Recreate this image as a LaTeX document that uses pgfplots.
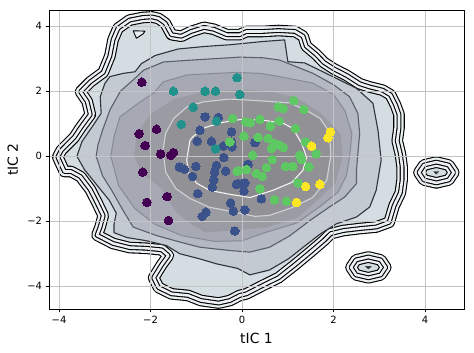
\documentclass[border=0pt]{standalone}
\usepackage{fontspec}
\setmainfont{DejaVu Sans}
\usepackage{pgfplots}
\usepackage{pgfplotstable}
\pgfplotsset{compat=1.18}

\definecolor{cgap}{HTML}{EBF0F2}
\definecolor{czero}{HTML}{D4DDE2}
\definecolor{cDf}{HTML}{C3CAD2}
\definecolor{cGf}{HTML}{B3B8C2}
\definecolor{cMf}{HTML}{A6A9B3}
\definecolor{cFf}{HTML}{9B9BA3}
\definecolor{cWaf}{HTML}{929296}
\definecolor{cWbf}{HTML}{8A898D}
\definecolor{cDl}{HTML}{30343A}
\definecolor{cGl}{HTML}{5B616B}
\definecolor{cMl}{HTML}{858A94}
\definecolor{cWal}{HTML}{CFD3D6}
\definecolor{cWbl}{HTML}{F4F4F4}
\definecolor{gridc}{HTML}{C4C4C4}
\definecolor{vP}{HTML}{440154}
\definecolor{vB}{HTML}{3B528B}
\definecolor{vT}{HTML}{21918C}
\definecolor{vG}{HTML}{5EC962}
\definecolor{vY}{HTML}{FDE725}

\pgfplotstableread{
x y
-2.78 4.04
-2.52 4.30
-2.23 4.38
-2.02 4.40
-1.87 4.35
-1.72 4.20
-1.58 3.84
-1.36 3.79
-1.14 3.94
-0.85 4.07
-0.63 4.01
-0.34 3.84
-0.05 3.84
0.10 3.94
0.46 3.94
0.82 3.97
1.19 3.94
1.37 3.79
1.44 3.48
1.66 3.22
1.84 2.96
2.06 2.76
2.35 2.55
2.64 2.29
2.86 2.19
3.15 2.09
3.33 1.94
3.44 1.63
3.52 1.32
3.52 0.90
3.48 0.49
3.55 0.08
3.59 -0.33
3.59 -0.74
3.55 -1.15
3.41 -1.56
3.30 -2.08
3.01 -2.23
2.64 -2.28
2.28 -2.34
1.99 -2.44
1.84 -2.65
1.55 -3.00
1.19 -3.42
0.82 -3.83
0.46 -4.08
0.10 -4.34
-0.05 -4.39
-0.27 -4.55
-0.52 -4.63
-0.92 -4.55
-1.21 -4.39
-1.58 -4.34
-1.87 -4.14
-1.98 -3.83
-1.80 -3.42
-1.65 -3.13
-1.80 -2.95
-2.16 -2.90
-2.52 -2.88
-2.89 -2.75
-3.11 -2.59
-3.25 -2.49
-3.18 -2.23
-3.11 -1.87
-3.25 -1.46
-3.40 -1.05
-3.62 -0.64
-3.83 -0.48
-3.98 -0.48
-4.13 -0.02
-4.05 0.19
-3.76 0.60
-3.62 0.90
-3.40 1.32
-3.47 1.73
-3.62 2.04
-3.40 2.35
-3.11 2.65
-2.96 3.17
-2.89 3.68
}\Pzero

\pgfplotstableread{
x y
4.625 -0.50
4.515 -0.27
4.245 -0.18
3.975 -0.27
3.865 -0.50
3.975 -0.73
4.245 -0.82
4.515 -0.73
}\IslandA

\pgfplotstableread{
x y
3.14 -3.42
3.03 -3.19
2.76 -3.10
2.49 -3.19
2.38 -3.42
2.49 -3.65
2.76 -3.74
3.03 -3.65
}\IslandB

\pgfplotstableread{
x y
-0.27 3.43
0.45 3.53
0.93 3.58
1.00 2.91
1.37 2.87
1.91 2.50
2.50 2.09
2.86 1.63
2.97 0.80
3.04 -0.12
2.93 -1.05
2.79 -1.56
2.50 -1.87
2.06 -2.08
1.70 -2.40
1.38 -2.75
1.02 -3.15
0.60 -3.50
0.17 -3.65
-0.10 -3.45
-0.56 -3.31
-0.92 -3.16
-1.36 -3.00
-1.65 -2.75
-2.09 -2.60
-2.52 -2.50
-2.80 -2.35
-2.80 -2.10
-2.75 -1.75
-2.90 -1.36
-3.20 -0.84
-3.45 -0.40
-3.61 0.00
-3.50 0.45
-3.28 0.90
-3.08 1.32
-3.10 1.83
-3.00 2.24
-2.89 2.45
-2.60 2.55
-2.34 2.60
-2.20 2.85
-1.90 3.10
-1.40 3.30
-0.80 3.38
}\LevD

\pgfplotstableread{
x y
-0.05 3.05
0.45 3.03
0.82 2.96
1.55 2.55
2.00 2.20
2.35 1.83
2.53 1.32
2.57 0.70
2.53 0.08
2.50 -0.43
2.50 -0.84
2.24 -1.26
1.91 -1.56
1.48 -1.98
1.04 -2.45
0.60 -2.80
0.17 -2.95
-0.27 -2.90
-0.92 -2.80
-1.36 -2.64
-1.87 -2.44
-2.38 -2.18
-2.60 -1.67
-2.85 -1.05
-3.05 -0.60
-3.19 0.00
-3.15 0.35
-3.05 0.80
-2.89 1.42
-2.66 2.00
-2.38 2.35
-2.15 2.65
-1.72 2.90
-1.20 2.95
-0.63 3.00
}\LevG

\pgfplotstableread{
x y
-0.12 2.58
0.40 2.55
0.82 2.45
1.55 2.25
2.00 1.90
2.25 1.40
2.40 0.70
2.35 0.00
2.28 -0.60
2.10 -1.10
1.70 -1.55
1.20 -2.05
0.50 -2.35
0.00 -2.60
-0.60 -2.62
-1.30 -2.45
-1.90 -2.10
-2.35 -1.60
-2.70 -0.90
-2.87 0.00
-2.80 0.60
-2.67 1.21
-2.30 1.60
-1.94 1.94
-1.72 2.29
-1.21 2.50
-0.60 2.55
}\LevM

\pgfplotstableread{
x y
0.00 2.05
0.60 2.00
1.20 1.80
1.70 1.35
2.15 0.70
2.20 0.00
2.05 -0.80
1.65 -1.35
1.20 -1.90
0.50 -2.20
-0.20 -2.28
-0.80 -2.35
-1.10 -2.10
-1.45 -1.70
-1.75 -1.00
-2.20 -0.50
-2.36 0.00
-2.30 0.70
-2.00 1.30
-1.50 1.75
-0.80 2.00
}\LevF

\pgfplotstableread{
x y
-1.73 0.19
-1.67 -0.49
-1.45 -0.99
-1.14 -1.30
-0.71 -1.57
-0.12 -1.73
0.28 -1.85
0.60 -1.82
1.11 -1.57
1.54 -1.27
1.85 -0.74
1.94 0.03
1.91 0.74
1.70 1.17
1.39 1.42
1.04 1.64
0.45 1.70
-0.27 1.76
-0.86 1.67
-1.21 1.51
-1.49 1.17
-1.67 0.71
}\LevWa

\pgfplotstableread{
x y
-1.14 0.49
-1.21 -0.12
-1.16 -0.52
-0.99 -0.83
-0.71 -1.05
-0.27 -1.17
0.17 -1.27
0.67 -1.05
1.09 -0.80
1.33 -0.43
1.41 -0.03
1.30 0.40
1.11 0.86
0.89 1.02
0.45 1.11
0.02 1.14
-0.27 1.08
-0.49 1.02
-0.86 0.86
-1.08 0.59
}\LevWb

\newcommand{\bandlines}[2]{%
\addplot[on layer=axis background, draw=black, line width=11.6bp, line join=round]
  table[x expr={-0.1+#2*(\thisrow{x}+0.1)}, y expr={-0.1+#2*(\thisrow{y}+0.1)}]{#1} -- cycle;
\addplot[on layer=axis background, draw=cgap, line width=9.4bp, line join=round]
  table[x expr={-0.1+#2*(\thisrow{x}+0.1)}, y expr={-0.1+#2*(\thisrow{y}+0.1)}]{#1} -- cycle;
\addplot[on layer=axis background, draw=black, line width=4.8bp, line join=round]
  table[x expr={-0.1+#2*(\thisrow{x}+0.1)}, y expr={-0.1+#2*(\thisrow{y}+0.1)}]{#1} -- cycle;
\addplot[on layer=axis background, draw=cgap, line width=2.6bp, line join=round]
  table[x expr={-0.1+#2*(\thisrow{x}+0.1)}, y expr={-0.1+#2*(\thisrow{y}+0.1)}]{#1} -- cycle;
}

\begin{document}
\begin{tikzpicture}
\begin{axis}[
  set layers, clip mode=individual,
  width=415bp, height=299bp, scale only axis,
  xmin=-4.22, xmax=4.85, ymin=-4.70, ymax=4.50,
  xtick={-4,-2,0,2,4}, xticklabels={−4,−2,0,2,4},
  ytick={-4,-2,0,2,4}, yticklabels={−4,−2,0,2,4},
  tick align=outside, tick pos=left,
  major tick length=3.5bp,
  every tick/.style={black, line width=0.8bp},
  axis line style={line width=0.8bp},
  grid=major,
  major grid style={draw=gridc, line width=0.8bp},
  ticklabel style={font=\fontsize{10}{12}\selectfont},
  label style={font=\fontsize{14}{16}\selectfont},
  xlabel={tIC 1}, ylabel={tIC 2},
  xlabel style={at={(axis description cs:0.5,-0.097)}, anchor=center},
  ylabel style={at={(axis description cs:-0.087,0.5)}, anchor=center},
]
% outer region
\addplot[on layer=axis background, fill=czero, draw=none]
  table[x expr={-0.1+0.975*(\thisrow{x}+0.1)}, y expr={-0.1+0.975*(\thisrow{y}+0.1)}]{\Pzero} -- cycle;
\bandlines{\Pzero}{0.975}
\addplot[on layer=axis background, fill=cgap, draw=black, line width=0.9bp, line join=round]
  coordinates {(-2.38,3.86) (-2.12,3.85) (-2.16,3.77) (-2.31,3.63)} -- cycle;
% islands
\addplot[on layer=axis background, fill=czero, draw=none] table{\IslandA} -- cycle;
\bandlines{\IslandA}{1}
\addplot[on layer=axis background, fill=cDl, draw=cDl] coordinates {(4.19,-0.47) (4.30,-0.47) (4.245,-0.55)} -- cycle;
\addplot[on layer=axis background, fill=czero, draw=none] table{\IslandB} -- cycle;
\bandlines{\IslandB}{1}
\addplot[on layer=axis background, fill=cDl, draw=cDl] coordinates {(2.70,-3.39) (2.82,-3.39) (2.76,-3.47)} -- cycle;
% inner levels
\addplot[on layer=axis background, fill=cDf, draw=cDl, line width=1.1bp, line join=round] table{\LevD} -- cycle;
\addplot[on layer=axis background, fill=cGf, draw=cGl, line width=1.1bp, line join=round] table{\LevG} -- cycle;
\addplot[on layer=axis background, fill=cMf, draw=cMl, line width=1bp, line join=round] table{\LevM} -- cycle;
\addplot[on layer=axis background, fill=cFf, draw=none] table{\LevF} -- cycle;
\addplot[on layer=axis background, fill=cWaf, draw=cWal, line width=1.1bp, line join=round] table{\LevWa} -- cycle;
\addplot[on layer=axis background, fill=cWbf, draw=cWbl, line width=1.1bp, line join=round] table{\LevWb} -- cycle;

% scatter points
\addplot[only marks, mark=*, mark size=4.3bp, color=vP, mark options={line width=0pt}] coordinates {
(-2.19,2.28) (-1.87,0.83) (-2.25,0.69) (-2.12,0.33) (-1.78,0.07) (-1.56,0.03)
(-1.50,0.11) (-2.17,-0.49) (-1.64,-1.24) (-2.08,-1.42) (-1.61,-1.98)};
\addplot[only marks, mark=*, mark size=4.3bp, color=vB, mark options={line width=0pt}] coordinates {
(-0.81,1.21) (-0.52,1.19) (-0.92,0.80) (-0.98,0.46) (-0.67,0.46) (-0.41,0.31)
(-0.22,0.29) (-0.40,-0.04) (-0.56,-0.28) (-0.60,-0.48) (-0.36,-0.46) (-1.01,-0.31)
(-1.37,-0.33) (-1.26,-0.40) (-1.08,-0.62) (-0.62,-0.72) (-0.65,-0.95) (-0.12,-0.87)
(-0.97,-1.15) (-0.25,-1.44) (-0.19,-1.69) (-0.79,-1.72) (-0.87,-1.85) (-0.16,-2.30)
(0.28,0.42) (0.13,-0.25) (-0.09,-0.84) (0.06,-0.82) (0.04,-1.07) (0.42,-1.31)
(0.06,-1.65) (-0.23,0.75) (-0.23,0.44)};
\addplot[only marks, mark=*, mark size=4.3bp, color=vT, mark options={line width=0pt}] coordinates {
(-1.50,2.00) (-0.81,2.00) (-0.58,2.00) (-0.11,2.42) (-0.05,1.90) (-1.07,1.51)
(-1.33,0.98) (-0.56,1.08) (-0.58,0.23)};
\addplot[only marks, mark=*, mark size=4.3bp, color=vG, mark options={line width=0pt}] coordinates {
(0.79,1.52) (0.90,1.47) (1.13,1.71) (1.35,1.44) (-0.21,1.16) (0.08,1.06)
(0.18,1.03) (0.39,1.14) (0.81,1.08) (0.62,0.93) (1.17,0.85) (0.04,0.62)
(0.35,0.58) (0.57,0.55) (0.71,0.39) (0.82,0.34) (0.90,0.27) (1.39,0.44)
(0.23,0.03) (-0.08,-0.45) (0.10,-0.41) (0.31,-0.53) (0.44,-0.62) (0.53,-0.35)
(0.66,-0.10) (0.95,-0.31) (1.11,-0.31) (1.26,0.03) (1.30,-0.10) (1.46,-0.33)
(1.62,0.08) (1.22,-0.82) (0.71,-1.34) (0.97,-1.38) (0.39,-1.00) (0.64,0.24)
(-0.27,0.44) (-0.11,-0.46)};
\addplot[only marks, mark=*, mark size=4.3bp, color=vY, mark options={line width=0pt}] coordinates {
(1.93,0.75) (1.88,0.57) (1.52,0.31) (1.39,-0.93) (1.70,-0.86) (1.19,-1.42)};
\end{axis}
\path (current axis.south west) ++(-49bp,-44bp) rectangle ++(474bp,353bp);
\end{tikzpicture}
\end{document}
